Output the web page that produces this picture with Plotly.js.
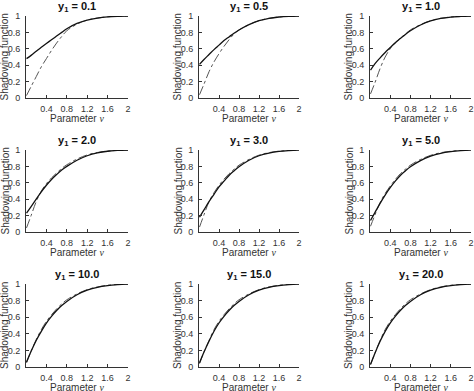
<!DOCTYPE html>
<html>
<head>
<meta charset="utf-8">
<script src="https://cdn.plot.ly/plotly-3.0.1.min.js"></script>
<style>html,body{margin:0;padding:0;background:#fff;}#chart{width:474px;height:391px;}</style>
</head>
<body>
<div id="chart"></div>
<script>
// parameter grid (x values)
var v = [0.01, 0.1, 0.2, 0.3, 0.4, 0.5, 0.6, 0.7, 0.8, 1.0, 1.2, 1.4, 1.6, 1.8, 2.0];

// panel labels (y1 values)
var y1Labels = ["0.1", "0.5", "1.0", "2.0", "3.0", "5.0", "10.0", "15.0", "20.0"];

// solid curves
var solid_0_1  = [0.48,0.52,0.57,0.62,0.665,0.71,0.755,0.80,0.845,0.91,0.95,0.975,0.99,0.997,1.0];
var solid_0_5  = [0.41,0.47,0.53,0.59,0.645,0.70,0.745,0.79,0.83,0.895,0.943,0.972,0.988,0.996,1.0];
var solid_1_0  = [0.34,0.42,0.49,0.555,0.615,0.675,0.725,0.775,0.82,0.89,0.94,0.97,0.987,0.995,1.0];
var solid_2_0  = [0.23,0.31,0.40,0.49,0.57,0.64,0.70,0.755,0.80,0.875,0.93,0.965,0.985,0.995,1.0];
var solid_3_0  = [0.18,0.27,0.37,0.46,0.55,0.62,0.69,0.745,0.795,0.875,0.93,0.962,0.982,0.993,1.0];
var solid_5_0  = [0.14,0.24,0.35,0.45,0.54,0.62,0.69,0.745,0.795,0.87,0.925,0.96,0.98,0.992,1.0];
var solid_10_0 = [0.06,0.19,0.32,0.43,0.53,0.61,0.68,0.74,0.79,0.87,0.925,0.96,0.98,0.992,1.0];
var solid_15_0 = [0.05,0.18,0.31,0.43,0.53,0.61,0.68,0.74,0.79,0.87,0.925,0.96,0.98,0.992,1.0];
var solid_20_0 = [0.03,0.17,0.31,0.43,0.53,0.61,0.68,0.74,0.79,0.87,0.925,0.96,0.98,0.992,1.0];

// dash-dot curves
var dash_0_1  = [0.03,0.14,0.26,0.38,0.48,0.58,0.67,0.75,0.82,0.90,0.95,0.975,0.99,0.997,1.0];
var dash_0_5  = [0.04,0.17,0.32,0.44,0.54,0.63,0.71,0.78,0.83,0.895,0.943,0.972,0.988,0.996,1.0];
var dash_1_0  = [0.05,0.19,0.36,0.50,0.60,0.67,0.73,0.78,0.83,0.895,0.942,0.972,0.988,0.996,1.0];
var dash_2_0  = [0.05,0.20,0.37,0.50,0.59,0.66,0.72,0.775,0.82,0.89,0.94,0.97,0.987,0.996,1.0];
var dash_3_0  = [0.06,0.21,0.37,0.48,0.57,0.645,0.71,0.765,0.815,0.885,0.937,0.968,0.986,0.995,1.0];
var dash_5_0  = [0.07,0.21,0.36,0.47,0.56,0.64,0.71,0.765,0.815,0.885,0.935,0.967,0.985,0.995,1.0];
var dash_10_0 = [0.05,0.19,0.33,0.45,0.55,0.63,0.70,0.76,0.81,0.88,0.932,0.965,0.985,0.995,1.0];
var dash_15_0 = [0.04,0.18,0.32,0.45,0.55,0.63,0.70,0.76,0.81,0.88,0.932,0.965,0.985,0.995,1.0];
var dash_20_0 = [0.03,0.17,0.32,0.45,0.55,0.63,0.70,0.76,0.81,0.88,0.932,0.965,0.985,0.995,1.0];

// tick labels
var xTickVals = [0.4, 0.8, 1.2, 1.6, 2];
var xTickText = ["0.4", "0.8", "1.2", "1.6", "2"];
var yTickVals = [0, 0.2, 0.4, 0.6, 0.8, 1];
var yTickText = ["0", "0.2", "0.4", "0.6", "0.8", "1"];

var solids = [solid_0_1, solid_0_5, solid_1_0, solid_2_0, solid_3_0, solid_5_0, solid_10_0, solid_15_0, solid_20_0];
var dashes = [dash_0_1, dash_0_5, dash_1_0, dash_2_0, dash_3_0, dash_5_0, dash_10_0, dash_15_0, dash_20_0];

var W = 474, H = 391;
var colPx = [[26,128],[199,299],[370,471]];
var rowPx = [[16,98],[150,232],[284,367]];

var font = "Liberation Sans, Arial, sans-serif";
var data = [];
var layout = {
  width: W, height: H,
  margin: {l:0, r:0, t:0, b:0},
  paper_bgcolor: "#fff", plot_bgcolor: "#fff",
  showlegend: false,
  font: {family: font, size: 10, color: "#222"},
  annotations: []
};

for (var i = 0; i < 9; i++) {
  var r = Math.floor(i / 3), c = i % 3;
  var sfx = i === 0 ? "" : String(i + 1);
  var xa = "x" + sfx, ya = "y" + sfx;
  data.push({x: v, y: dashes[i], xaxis: xa, yaxis: ya, mode: "lines", type: "scatter",
    line: {color: "#555", width: 1, dash: "dashdot", shape: "spline"}, hoverinfo: "skip"});
  data.push({x: v, y: solids[i], xaxis: xa, yaxis: ya, mode: "lines", type: "scatter",
    line: {color: "#111", width: 1.3, shape: "spline"}, hoverinfo: "skip"});
  layout["xaxis" + sfx] = {
    domain: [colPx[c][0] / W, colPx[c][1] / W],
    anchor: ya, range: [0, 2], showgrid: false, zeroline: false,
    showline: true, linecolor: "#333", linewidth: 1,
    ticks: "inside", ticklen: 3, tickcolor: "#333",
    tickvals: xTickVals, ticktext: xTickText, ticklabelstandoff: 2,
    tickfont: {family: font, size: 9, color: "#333"},
    fixedrange: true
  };
  layout["yaxis" + sfx] = {
    domain: [1 - rowPx[r][1] / H, 1 - rowPx[r][0] / H],
    anchor: xa, range: [0, 1], showgrid: false, zeroline: false,
    showline: true, linecolor: "#333", linewidth: 1,
    ticks: "inside", ticklen: 3, tickcolor: "#333",
    tickvals: yTickVals, ticktext: yTickText, ticklabelstandoff: 3,
    tickfont: {family: font, size: 9, color: "#333"},
    fixedrange: true
  };
  var cx = (colPx[c][0] + colPx[c][1]) / 2;
  // panel title
  layout.annotations.push({
    xref: "paper", yref: "paper", x: cx / W, y: 1 - (rowPx[r][0] - 9) / H,
    xanchor: "center", yanchor: "middle",
    showarrow: false, text: "<b>y<sub>1</sub> = " + y1Labels[i] + "</b>",
    font: {family: font, size: 11, color: "#111"}
  });
  // x-axis title
  layout.annotations.push({
    xref: "paper", yref: "paper", x: cx / W, y: 1 - (rowPx[r][1] + 20.5) / H,
    xanchor: "center", yanchor: "middle",
    showarrow: false,
    text: "Parameter <span style=\"font-family:Liberation Serif, Times New Roman, serif\"><i>v</i></span>",
    font: {family: font, size: 10, color: "#333"}
  });
  // y-axis title
  layout.annotations.push({
    xref: "paper", yref: "paper", x: (colPx[c][0] - 21.5) / W, y: 1 - ((rowPx[r][0] + rowPx[r][1]) / 2) / H,
    xanchor: "center", yanchor: "middle", textangle: -90,
    showarrow: false, text: "Shadowing function",
    font: {family: font, size: 10, color: "#333"}
  });
}

Plotly.newPlot("chart", data, layout, {staticPlot: true, displayModeBar: false});
</script>
</body>
</html>
